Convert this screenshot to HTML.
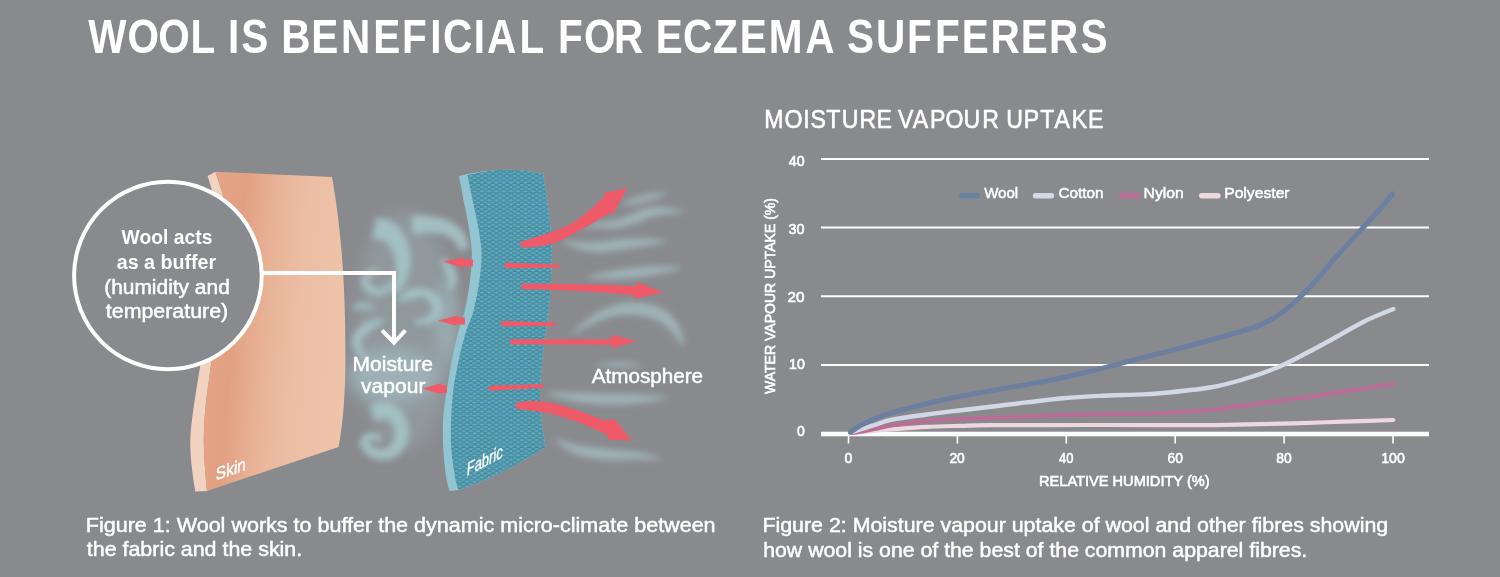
<!DOCTYPE html>
<html><head><meta charset="utf-8">
<style>
html,body{margin:0;padding:0;background:#898a8e;width:1500px;height:577px;overflow:hidden}
svg{display:block}
text{font-family:"Liberation Sans",sans-serif;fill:#fff}
</style></head>
<body>
<svg width="1500" height="577" viewBox="0 0 1500 577">
<rect id="bg" width="1500" height="577" fill="#898a8e"/>
<g class="nt">
<g id="fig1">
<defs>
<filter id="bl3" x="-30%" y="-30%" width="160%" height="160%"><feGaussianBlur stdDeviation="3"/></filter>
<filter id="bl4" x="-30%" y="-30%" width="160%" height="160%"><feGaussianBlur stdDeviation="4"/></filter>
<filter id="bl8" x="-50%" y="-50%" width="200%" height="200%"><feGaussianBlur stdDeviation="8"/></filter>
<pattern id="hatch" width="7.3" height="4.4" patternUnits="userSpaceOnUse" x="0" y="0">
<rect width="7.3" height="4.4" fill="#60aabe"/>
<path d="M0,0 L7.3,4.4 M7.3,0 L0,4.4 M-7.3,0 L7.3,8.8 M14.6,0 L0,8.8 M0,-4.4 L7.3,0 M7.3,-4.4 L0,0 M0,4.4 L7.3,8.8 M7.3,4.4 L0,8.8" stroke="#44889d" stroke-width="1.1" fill="none"/>
</pattern>
<linearGradient id="skinG" x1="230" y1="0" x2="390" y2="0" gradientUnits="userSpaceOnUse" gradientTransform="skewX(-5)">
<stop offset="0" stop-color="#e5a587"/>
<stop offset="0.2" stop-color="#e2a082"/>
<stop offset="0.4" stop-color="#e8b397"/>
<stop offset="0.6" stop-color="#ecbea4"/>
<stop offset="1" stop-color="#efc5ac"/>
</linearGradient>
</defs>

<!-- left swirls -->
<ellipse cx="405" cy="330" rx="50" ry="120" fill="#a6c3c7" opacity="0.25" filter="url(#bl8)"/>
<ellipse cx="447" cy="322" rx="11" ry="45" fill="#a6c3c7" opacity="0.5" filter="url(#bl8)"/>
<ellipse cx="393" cy="376" rx="46" ry="27" fill="#a6c3c7" opacity="0.6" filter="url(#bl8)"/>
<g fill="#a5c4c8" filter="url(#bl3)" opacity="0.9">
<path d="M372.0,238.8 L373.6,239.0 L375.4,239.2 L377.0,239.3 L378.5,239.4 L379.8,239.5 L380.9,239.6 L381.8,239.7 L382.4,239.8 L382.8,239.8 L383.1,239.9 L383.4,240.0 L383.9,240.2 L384.4,240.6 L385.0,241.1 L385.7,241.6 L386.3,242.3 L387.0,243.1 L387.7,243.9 L388.4,244.8 L389.1,245.7 L389.7,246.6 L390.2,247.4 L390.8,248.4 L391.3,249.3 L391.8,250.3 L392.3,251.4 L392.8,252.5 L393.2,253.6 L393.6,254.7 L394.0,255.8 L394.3,256.9 L394.7,258.1 L395.0,259.2 L395.2,260.3 L395.4,261.4 L395.6,262.6 L395.8,263.7 L395.9,264.9 L396.0,266.1 L396.0,267.3 L396.0,268.6 L395.9,270.0 L395.8,271.6 L395.6,273.2 L395.4,274.8 L395.2,276.5 L394.9,278.1 L394.6,279.6 L394.4,281.0 L394.2,282.1 L394.0,283.1 L393.8,283.9 L393.5,284.6 L393.3,285.3 L393.0,285.9 L392.7,286.6 L392.3,287.4 L392.0,288.3 L391.6,289.2 L391.5,290.3 L396.5,293.7 L397.4,293.2 L398.1,292.8 L398.7,292.3 L399.4,291.7 L400.1,291.1 L400.8,290.3 L401.6,289.4 L402.4,288.3 L403.1,287.2 L403.8,285.9 L404.5,284.5 L405.2,283.0 L406.0,281.4 L406.7,279.7 L407.3,277.9 L408.0,276.1 L408.6,274.3 L409.1,272.4 L409.6,270.5 L410.0,268.7 L410.3,267.0 L410.5,265.2 L410.6,263.5 L410.7,261.9 L410.7,260.2 L410.6,258.6 L410.5,256.9 L410.4,255.3 L410.2,253.8 L410.0,252.2 L409.7,250.6 L409.4,249.0 L409.1,247.4 L408.6,245.8 L408.2,244.2 L407.6,242.5 L407.1,240.9 L406.4,239.3 L405.7,237.8 L404.9,236.3 L404.2,234.8 L403.4,233.5 L402.5,232.0 L401.5,230.6 L400.5,229.1 L399.3,227.6 L398.0,226.2 L396.5,224.8 L394.8,223.4 L392.9,222.1 L390.8,221.0 L388.6,220.1 L386.6,219.5 L384.6,219.0 L382.9,218.6 L381.2,218.3 L379.7,218.0 L378.4,217.8 L377.2,217.5 L376.0,217.2 Z"/>
<path d="M412.4,234.5 L414.0,234.3 L415.7,234.2 L417.4,234.0 L419.0,233.8 L420.5,233.6 L422.0,233.5 L423.4,233.3 L424.8,233.2 L426.1,233.1 L427.5,233.1 L429.0,233.1 L430.6,233.1 L432.1,233.2 L433.6,233.2 L435.1,233.3 L436.6,233.5 L437.9,233.6 L439.2,233.8 L440.5,234.0 L441.6,234.2 L442.6,234.5 L443.7,234.9 L444.8,235.3 L445.9,235.7 L447.0,236.2 L448.0,236.7 L449.0,237.2 L450.0,237.8 L450.8,238.4 L451.6,238.9 L452.2,239.3 L452.8,239.8 L453.4,240.4 L454.0,241.0 L454.6,241.7 L455.1,242.4 L455.6,243.1 L456.1,243.8 L456.6,244.5 L457.0,245.1 L457.2,245.5 L457.4,245.8 L457.6,246.1 L457.7,246.5 L457.9,246.9 L458.0,247.5 L458.2,248.1 L458.3,248.9 L458.6,249.7 L459.0,250.4 L467.0,249.6 L467.3,248.9 L467.4,248.4 L467.6,247.8 L467.7,247.1 L467.7,246.3 L467.8,245.4 L467.8,244.4 L467.6,243.3 L467.4,242.1 L467.0,240.9 L466.7,239.8 L466.3,238.8 L465.9,237.7 L465.4,236.5 L464.8,235.3 L464.1,234.1 L463.4,232.8 L462.5,231.6 L461.5,230.3 L460.4,229.1 L459.3,228.0 L458.1,227.0 L456.9,226.0 L455.6,225.0 L454.3,224.0 L452.8,223.1 L451.3,222.2 L449.8,221.3 L448.1,220.5 L446.4,219.8 L444.7,219.1 L442.9,218.6 L441.0,218.1 L439.2,217.6 L437.4,217.2 L435.6,216.9 L433.8,216.6 L432.0,216.3 L430.2,216.1 L428.5,215.9 L426.7,215.7 L424.8,215.6 L423.0,215.5 L421.2,215.5 L419.5,215.5 L417.8,215.5 L416.2,215.5 L414.7,215.5 L413.2,215.5 L411.6,215.5 Z"/>
<path d="M379.8,270.0 L378.8,269.8 L377.8,269.6 L376.7,269.5 L375.6,269.4 L374.4,269.3 L373.3,269.3 L372.1,269.4 L370.8,269.6 L369.5,270.0 L368.3,270.6 L367.2,271.4 L366.2,272.3 L365.2,273.3 L364.3,274.4 L363.5,275.5 L362.8,276.7 L362.2,277.9 L361.7,279.2 L361.4,280.6 L361.2,282.0 L361.3,283.5 L361.6,284.8 L362.1,286.1 L362.7,287.2 L363.4,288.3 L364.2,289.3 L365.1,290.1 L365.9,290.9 L366.8,291.7 L367.8,292.3 L368.8,293.0 L369.9,293.5 L371.1,294.1 L372.3,294.5 L373.5,295.0 L374.9,295.3 L376.2,295.5 L377.6,295.7 L379.0,295.7 L380.4,295.6 L381.8,295.3 L383.1,294.8 L384.3,294.2 L385.5,293.6 L386.6,292.8 L387.6,292.1 L388.6,291.2 L389.4,290.4 L390.2,289.6 L390.9,288.7 L391.5,287.7 L391.9,286.7 L392.2,285.7 L392.3,284.8 L392.4,283.9 L392.3,283.1 L392.3,282.4 L392.2,281.6 L392.1,281.0 L392.0,280.2 L390.0,279.8 L389.5,280.5 L389.2,281.2 L389.0,282.0 L388.7,282.7 L388.5,283.3 L388.3,283.9 L388.0,284.4 L387.7,284.7 L387.5,285.0 L387.1,285.3 L386.6,285.7 L385.9,286.1 L385.1,286.6 L384.3,287.0 L383.4,287.4 L382.5,287.8 L381.7,288.1 L380.9,288.3 L380.2,288.4 L379.6,288.4 L379.1,288.4 L378.4,288.3 L377.6,288.1 L376.8,287.8 L376.0,287.5 L375.1,287.2 L374.3,286.8 L373.5,286.4 L372.8,286.0 L372.2,285.7 L371.7,285.3 L371.1,284.8 L370.6,284.4 L370.1,283.9 L369.7,283.5 L369.4,283.0 L369.1,282.7 L368.9,282.3 L368.8,282.1 L368.8,282.0 L368.8,281.7 L368.8,281.2 L369.0,280.5 L369.3,279.7 L369.6,278.9 L370.0,278.0 L370.4,277.2 L370.9,276.5 L371.3,275.8 L371.7,275.4 L372.1,275.0 L372.6,274.7 L373.2,274.4 L374.0,274.1 L374.9,273.8 L375.9,273.5 L377.0,273.2 L378.1,272.9 L379.2,272.6 L380.2,272.0 Z"/>
<path d="M405.0,293.5 L406.8,294.0 L408.6,294.3 L410.4,294.5 L412.2,294.6 L413.9,294.8 L415.6,294.9 L417.1,295.1 L418.5,295.3 L419.8,295.6 L421.0,296.0 L422.1,296.5 L423.4,297.1 L424.6,297.8 L425.8,298.5 L427.0,299.3 L428.0,300.1 L429.0,300.9 L429.9,301.6 L430.5,302.4 L431.0,303.0 L431.4,303.5 L431.7,304.2 L432.0,305.0 L432.2,305.8 L432.4,306.7 L432.5,307.6 L432.6,308.5 L432.5,309.3 L432.5,310.0 L432.4,310.6 L432.3,311.1 L432.1,311.6 L431.8,312.2 L431.4,312.8 L430.9,313.4 L430.3,314.0 L429.7,314.7 L429.0,315.3 L428.2,315.8 L427.5,316.3 L426.6,316.8 L425.7,317.2 L424.5,317.5 L423.1,317.9 L421.7,318.2 L420.1,318.6 L418.5,318.9 L416.9,319.3 L415.3,319.8 L413.8,320.5 L414.2,323.5 L415.7,323.8 L417.3,324.1 L418.9,324.2 L420.5,324.4 L422.2,324.5 L423.9,324.6 L425.5,324.5 L427.2,324.4 L428.9,324.1 L430.5,323.7 L432.0,323.1 L433.4,322.4 L434.8,321.7 L436.0,320.8 L437.2,319.8 L438.3,318.8 L439.3,317.6 L440.2,316.3 L441.0,314.9 L441.6,313.4 L442.0,311.8 L442.3,310.3 L442.4,308.6 L442.4,307.0 L442.2,305.3 L441.9,303.6 L441.5,301.9 L440.8,300.2 L440.0,298.6 L439.0,297.0 L437.8,295.6 L436.5,294.4 L435.1,293.2 L433.5,292.2 L431.9,291.2 L430.2,290.3 L428.5,289.6 L426.7,288.9 L424.9,288.4 L423.0,288.0 L421.1,287.7 L419.2,287.6 L417.3,287.7 L415.4,287.9 L413.6,288.2 L411.8,288.6 L410.0,289.0 L408.3,289.4 L406.6,289.9 L405.0,290.5 Z"/>
<path d="M383.6,319.1 L381.7,319.0 L379.9,319.1 L378.1,319.3 L376.3,319.6 L374.4,319.9 L372.6,320.3 L370.7,320.8 L368.9,321.5 L367.1,322.2 L365.4,323.2 L363.7,324.2 L362.2,325.3 L360.6,326.5 L359.2,327.8 L357.7,329.2 L356.4,330.7 L355.2,332.3 L354.2,333.9 L353.3,335.5 L352.5,337.3 L352.1,339.2 L351.9,341.1 L352.0,342.9 L352.2,344.6 L352.7,346.2 L353.2,347.7 L353.8,349.1 L354.5,350.4 L355.2,351.6 L355.9,352.7 L356.8,353.8 L357.9,354.8 L358.9,355.7 L360.0,356.3 L361.1,356.9 L362.2,357.4 L363.2,357.8 L364.2,358.2 L365.2,358.5 L366.4,358.8 L367.6,357.2 L367.1,356.1 L366.4,355.2 L365.6,354.3 L364.9,353.5 L364.2,352.7 L363.5,352.0 L363.0,351.3 L362.6,350.6 L362.3,350.0 L362.1,349.3 L361.8,348.4 L361.5,347.4 L361.3,346.4 L361.1,345.4 L361.0,344.4 L360.9,343.4 L360.9,342.6 L361.1,341.8 L361.2,341.2 L361.5,340.7 L361.8,340.0 L362.4,339.2 L363.1,338.2 L364.0,337.2 L365.0,336.1 L366.1,335.0 L367.2,333.9 L368.4,332.8 L369.5,331.8 L370.6,330.8 L371.7,330.0 L372.9,329.1 L374.1,328.2 L375.5,327.4 L377.0,326.5 L378.5,325.5 L380.0,324.6 L381.6,323.5 L383.1,322.4 L384.4,320.9 Z"/>
<path d="M440.3,259.7 L440.4,261.0 L440.8,262.1 L441.3,263.2 L441.8,264.2 L442.3,265.1 L442.7,266.0 L443.2,266.9 L443.5,267.7 L443.8,268.5 L444.1,269.3 L444.5,270.2 L444.8,271.2 L445.2,272.1 L445.6,273.1 L445.9,274.1 L446.2,275.0 L446.6,275.9 L446.8,276.8 L447.1,277.6 L447.3,278.4 L447.5,279.1 L447.6,280.0 L447.7,280.9 L447.8,282.0 L447.9,283.2 L447.9,284.4 L448.0,285.7 L448.2,287.0 L448.4,288.4 L449.0,289.8 L451.0,290.2 L452.0,289.2 L452.8,288.1 L453.6,287.0 L454.2,285.9 L454.9,284.7 L455.4,283.5 L455.9,282.1 L456.3,280.7 L456.6,279.2 L456.7,277.6 L456.6,276.1 L456.4,274.6 L456.1,273.2 L455.7,271.8 L455.2,270.4 L454.6,269.2 L454.0,268.0 L453.3,266.8 L452.6,265.7 L451.9,264.7 L451.0,263.7 L450.1,262.7 L449.1,261.9 L448.1,261.1 L447.1,260.5 L446.1,259.9 L445.1,259.4 L444.1,259.0 L443.0,258.6 L441.7,258.3 Z"/>
<path d="M352.1,308.5 L353.2,308.9 L354.3,309.0 L355.4,309.0 L356.4,309.0 L357.4,309.0 L358.3,308.9 L359.3,308.9 L360.2,308.9 L361.1,308.9 L362.0,309.0 L363.0,309.0 L364.1,309.1 L365.3,309.2 L366.5,309.3 L367.8,309.3 L369.2,309.3 L370.6,309.3 L372.0,309.2 L373.5,309.0 L374.9,308.5 L375.1,307.5 L373.9,306.6 L372.7,305.9 L371.4,305.2 L370.1,304.7 L368.8,304.2 L367.4,303.7 L366.1,303.4 L364.7,303.2 L363.4,303.0 L362.0,303.0 L360.7,303.2 L359.5,303.4 L358.3,303.7 L357.2,304.1 L356.2,304.5 L355.3,305.0 L354.4,305.5 L353.6,306.1 L352.7,306.7 L351.9,307.5 Z"/>
<path d="M396.2,301.5 L397.9,301.7 L399.5,301.7 L401.0,301.5 L402.6,301.3 L404.1,301.1 L405.6,300.8 L407.1,300.5 L408.5,300.3 L409.8,300.0 L411.2,299.7 L412.5,299.3 L413.8,298.9 L415.0,298.6 L416.2,298.2 L417.3,297.8 L418.3,297.5 L419.3,297.2 L420.3,296.9 L421.1,296.7 L422.0,296.5 L422.8,296.4 L423.7,296.3 L424.7,296.3 L425.7,296.4 L426.8,296.5 L427.9,296.6 L429.1,296.7 L430.3,296.8 L431.6,296.8 L432.9,296.5 L433.1,295.5 L432.3,294.6 L431.3,293.8 L430.4,293.1 L429.4,292.4 L428.4,291.8 L427.3,291.1 L426.1,290.6 L424.8,290.1 L423.5,289.7 L422.0,289.5 L420.6,289.4 L419.1,289.5 L417.7,289.6 L416.4,289.9 L415.1,290.2 L413.8,290.6 L412.5,291.0 L411.3,291.4 L410.1,291.9 L408.8,292.3 L407.5,292.9 L406.2,293.5 L404.8,294.2 L403.5,294.9 L402.1,295.7 L400.8,296.5 L399.5,297.4 L398.2,298.3 L397.0,299.3 L395.8,300.5 Z"/>
<path d="M374.5,421.1 L375.9,420.8 L377.4,420.3 L378.8,419.8 L380.0,419.3 L381.1,418.9 L382.0,418.6 L382.7,418.4 L383.2,418.3 L383.5,418.3 L383.7,418.2 L384.2,418.3 L384.8,418.4 L385.6,418.7 L386.4,418.9 L387.2,419.3 L388.0,419.7 L388.7,420.2 L389.4,420.6 L390.0,421.1 L390.5,421.6 L390.9,422.0 L391.4,422.6 L391.9,423.3 L392.4,424.1 L392.8,425.0 L393.2,425.9 L393.6,426.8 L393.9,427.8 L394.1,428.7 L394.3,429.6 L394.5,430.6 L394.6,431.6 L394.6,432.7 L394.6,433.9 L394.6,435.1 L394.4,436.2 L394.3,437.3 L394.1,438.4 L393.8,439.3 L393.6,440.1 L393.2,440.8 L392.8,441.7 L392.3,442.5 L391.8,443.3 L391.2,444.1 L390.5,444.8 L389.9,445.5 L389.2,446.1 L388.6,446.6 L388.0,447.0 L387.4,447.4 L386.7,447.7 L385.9,448.0 L385.1,448.2 L384.1,448.4 L383.2,448.5 L382.2,448.6 L381.2,448.7 L380.3,448.7 L379.5,448.6 L378.8,448.5 L378.0,448.4 L377.1,448.1 L376.1,447.8 L375.2,447.4 L374.3,447.0 L373.4,446.5 L372.6,446.0 L371.9,445.6 L371.3,445.2 L370.9,444.9 L370.5,444.5 L370.2,444.1 L369.8,443.7 L369.6,443.3 L369.4,443.0 L369.2,442.7 L369.2,442.5 L369.1,442.5 L369.1,442.6 L369.0,442.8 L368.9,442.8 L369.0,442.6 L369.2,442.3 L369.5,441.9 L369.8,441.5 L370.2,441.2 L370.6,440.9 L370.9,440.6 L371.1,440.5 L371.2,440.4 L371.6,440.3 L372.1,440.2 L372.7,440.2 L373.4,440.2 L374.1,440.2 L374.7,440.3 L375.3,440.4 L375.8,440.5 L376.1,440.5 L376.2,440.5 L376.2,440.4 L376.2,440.4 L376.3,440.5 L376.5,440.7 L376.7,441.1 L377.0,441.5 L377.3,442.0 L377.7,442.6 L378.2,443.1 L382.6,440.7 L382.6,440.2 L382.6,439.9 L382.5,439.4 L382.4,438.9 L382.2,438.3 L382.0,437.5 L381.6,436.7 L381.0,435.9 L380.2,435.1 L379.3,434.5 L378.4,434.0 L377.5,433.6 L376.5,433.3 L375.5,433.0 L374.4,432.7 L373.3,432.5 L372.2,432.4 L371.0,432.4 L369.8,432.4 L368.5,432.7 L367.4,433.1 L366.3,433.6 L365.3,434.2 L364.3,434.9 L363.4,435.6 L362.5,436.4 L361.7,437.4 L361.0,438.5 L360.4,439.7 L359.9,441.2 L359.8,442.6 L359.9,443.9 L360.1,445.2 L360.5,446.4 L360.9,447.6 L361.5,448.7 L362.1,449.8 L362.9,450.9 L363.7,451.9 L364.7,452.8 L365.6,453.7 L366.7,454.5 L367.8,455.3 L369.0,456.1 L370.3,456.9 L371.7,457.6 L373.1,458.3 L374.6,458.9 L376.1,459.4 L377.7,459.8 L379.2,460.0 L380.8,460.2 L382.3,460.3 L383.9,460.3 L385.6,460.2 L387.2,460.0 L388.9,459.7 L390.5,459.2 L392.2,458.7 L393.8,458.0 L395.3,457.1 L396.8,456.2 L398.2,455.1 L399.5,454.0 L400.7,452.8 L401.9,451.5 L403.0,450.1 L404.1,448.6 L405.0,447.1 L405.8,445.5 L406.6,443.8 L407.2,442.1 L407.7,440.4 L408.1,438.6 L408.4,436.8 L408.6,434.9 L408.8,433.1 L408.8,431.3 L408.8,429.5 L408.7,427.8 L408.4,426.0 L408.1,424.3 L407.7,422.5 L407.2,420.8 L406.6,419.1 L405.8,417.5 L405.0,415.9 L404.1,414.3 L403.1,412.7 L401.9,411.2 L400.6,409.9 L399.3,408.6 L397.8,407.5 L396.3,406.4 L394.7,405.4 L393.1,404.5 L391.4,403.8 L389.7,403.1 L387.9,402.6 L385.9,402.2 L383.7,402.0 L381.6,402.0 L379.6,402.3 L377.9,402.6 L376.3,403.0 L374.8,403.5 L373.5,403.8 L372.4,404.2 L371.4,404.4 L370.3,404.7 Z"/>
</g>
<!-- right swirls -->
<g fill="#a0b5b8" filter="url(#bl3)" opacity="0.95">
<path d="M621.0,205.0 L622.6,205.3 L624.1,205.3 L625.6,205.2 L627.0,205.1 L628.5,205.0 L630.0,204.8 L631.4,204.6 L632.9,204.4 L634.3,204.2 L635.8,203.9 L637.3,203.7 L638.8,203.4 L640.3,203.1 L641.7,202.7 L643.2,202.4 L644.7,202.0 L646.2,201.6 L647.7,201.1 L649.2,200.7 L650.8,200.2 L652.4,199.7 L654.0,199.1 L655.6,198.5 L657.2,197.9 L658.9,197.2 L660.6,196.6 L662.2,195.8 L663.9,195.0 L665.5,194.2 L667.0,193.0 L667.0,193.0 L665.1,192.6 L663.3,192.6 L661.5,192.6 L659.7,192.6 L657.9,192.8 L656.1,192.9 L654.3,193.1 L652.6,193.3 L650.9,193.5 L649.2,193.8 L647.6,194.1 L646.0,194.5 L644.4,194.8 L642.9,195.2 L641.4,195.6 L639.9,196.1 L638.5,196.5 L637.0,197.0 L635.6,197.5 L634.2,198.1 L632.8,198.6 L631.4,199.2 L630.0,199.8 L628.7,200.4 L627.4,201.0 L626.1,201.7 L624.8,202.4 L623.5,203.1 L622.2,203.9 L621.0,205.0 Z"/>
<path d="M582.0,227.0 L583.9,227.4 L585.7,227.6 L587.6,227.7 L589.4,227.7 L591.3,227.8 L593.1,227.8 L594.9,227.9 L596.7,227.9 L598.5,227.9 L600.2,227.9 L601.9,228.0 L603.6,228.1 L605.3,228.2 L607.0,228.3 L608.7,228.4 L610.5,228.5 L612.2,228.6 L614.1,228.5 L615.9,228.5 L617.8,228.3 L619.6,228.0 L621.4,227.7 L623.1,227.3 L624.8,226.8 L626.5,226.3 L628.2,225.8 L629.8,225.3 L631.4,224.8 L633.0,224.2 L634.7,223.7 L636.5,223.0 L638.3,222.3 L640.0,221.6 L641.7,220.8 L643.4,220.0 L645.1,219.3 L646.6,218.6 L648.2,218.0 L649.7,217.4 L651.1,217.0 L652.6,216.6 L654.1,216.2 L655.6,215.9 L657.1,215.7 L658.7,215.4 L660.3,215.2 L661.9,215.0 L663.6,214.8 L665.3,214.6 L667.1,214.3 L668.8,214.1 L670.5,213.9 L672.3,213.7 L674.0,213.5 L675.9,213.3 L677.7,213.0 L679.5,212.8 L681.3,212.5 L683.2,212.1 L685.0,211.5 L685.0,211.5 L683.2,210.7 L681.4,210.2 L679.6,209.8 L677.8,209.4 L676.0,209.0 L674.2,208.7 L672.4,208.3 L670.6,208.1 L668.7,207.8 L666.9,207.7 L665.2,207.5 L663.5,207.4 L661.7,207.2 L660.0,207.1 L658.2,207.1 L656.4,207.1 L654.6,207.1 L652.7,207.3 L650.8,207.5 L648.9,207.8 L646.9,208.3 L645.0,208.8 L643.1,209.5 L641.3,210.2 L639.5,210.9 L637.7,211.7 L636.0,212.4 L634.4,213.1 L632.9,213.7 L631.3,214.3 L629.7,214.9 L628.1,215.6 L626.5,216.2 L625.0,216.8 L623.5,217.4 L622.0,217.9 L620.6,218.4 L619.1,218.9 L617.7,219.3 L616.2,219.7 L614.8,220.1 L613.3,220.3 L611.8,220.6 L610.2,220.8 L608.5,220.9 L606.9,221.1 L605.1,221.3 L603.4,221.5 L601.6,221.7 L599.8,222.1 L598.0,222.4 L596.2,222.8 L594.4,223.2 L592.6,223.6 L590.8,224.1 L589.1,224.6 L587.3,225.1 L585.5,225.6 L583.7,226.2 L582.0,227.0 Z"/>
<path d="M562.0,241.0 L563.6,242.2 L565.3,243.2 L567.0,244.0 L568.7,244.9 L570.4,245.7 L572.1,246.5 L573.9,247.2 L575.7,247.9 L577.5,248.6 L579.4,249.2 L581.2,249.7 L583.0,250.1 L584.8,250.6 L586.7,250.9 L588.5,251.3 L590.4,251.6 L592.3,251.8 L594.2,252.0 L596.1,252.1 L598.1,252.2 L600.1,252.2 L602.1,252.2 L604.2,252.1 L606.2,251.9 L608.1,251.7 L610.1,251.4 L612.0,251.2 L613.9,250.9 L615.7,250.6 L617.6,250.4 L619.5,250.1 L621.4,249.9 L623.4,249.6 L625.3,249.3 L627.2,249.0 L629.1,248.7 L631.0,248.4 L632.9,248.1 L634.7,247.8 L636.4,247.5 L638.1,247.2 L639.7,247.0 L641.3,246.7 L642.9,246.5 L644.4,246.3 L645.9,246.0 L647.5,245.8 L649.0,245.5 L650.6,245.3 L652.2,245.0 L653.8,244.7 L655.4,244.4 L656.9,244.0 L658.5,243.7 L660.1,243.4 L661.7,243.0 L663.3,242.6 L664.9,242.2 L666.4,241.7 L668.0,241.0 L668.0,241.0 L666.4,240.5 L664.7,240.2 L663.1,240.0 L661.5,239.8 L659.9,239.6 L658.3,239.5 L656.7,239.4 L655.0,239.2 L653.4,239.1 L651.8,239.0 L650.2,238.9 L648.7,238.8 L647.1,238.8 L645.5,238.7 L644.0,238.6 L642.4,238.6 L640.8,238.5 L639.1,238.5 L637.4,238.5 L635.6,238.5 L633.8,238.5 L631.9,238.6 L630.0,238.7 L628.1,238.8 L626.1,238.9 L624.2,239.0 L622.2,239.1 L620.3,239.3 L618.3,239.5 L616.4,239.6 L614.4,239.8 L612.5,240.0 L610.5,240.3 L608.6,240.5 L606.7,240.8 L604.9,241.0 L603.1,241.3 L601.3,241.5 L599.6,241.6 L597.9,241.8 L596.2,241.9 L594.5,241.9 L592.8,242.0 L591.1,242.0 L589.3,242.0 L587.6,242.0 L585.9,242.0 L584.1,242.0 L582.4,241.9 L580.6,241.8 L578.9,241.8 L577.1,241.6 L575.3,241.5 L573.5,241.3 L571.6,241.2 L569.7,241.0 L567.8,240.8 L565.9,240.7 L564.0,240.7 L562.0,241.0 Z"/>
<path d="M586.0,277.5 L588.1,278.0 L590.1,278.3 L592.1,278.5 L594.1,278.6 L596.2,278.7 L598.2,278.8 L600.2,278.9 L602.2,278.9 L604.3,279.0 L606.3,279.0 L608.4,279.0 L610.4,279.0 L612.4,279.0 L614.4,279.0 L616.4,278.9 L618.5,278.9 L620.6,278.8 L622.8,278.7 L625.1,278.5 L627.5,278.4 L630.0,278.2 L632.7,277.9 L635.4,277.6 L638.2,277.3 L641.1,277.0 L644.0,276.6 L646.9,276.1 L649.8,275.7 L652.6,275.2 L655.5,274.7 L658.2,274.2 L661.0,273.6 L663.8,273.0 L666.5,272.4 L669.3,271.8 L672.1,271.1 L674.8,270.4 L677.6,269.6 L680.3,268.7 L683.0,267.5 L683.0,267.5 L680.1,266.9 L677.2,266.6 L674.4,266.4 L671.5,266.3 L668.7,266.2 L665.9,266.2 L663.0,266.2 L660.2,266.2 L657.4,266.2 L654.5,266.3 L651.7,266.4 L648.8,266.5 L645.9,266.7 L642.9,266.9 L640.0,267.2 L637.2,267.4 L634.4,267.7 L631.6,268.0 L629.0,268.3 L626.5,268.6 L624.1,268.9 L621.9,269.3 L619.7,269.6 L617.6,269.9 L615.6,270.2 L613.6,270.5 L611.6,270.9 L609.7,271.2 L607.7,271.6 L605.7,272.0 L603.6,272.4 L601.6,272.9 L599.6,273.3 L597.7,273.8 L595.7,274.3 L593.8,274.8 L591.8,275.3 L589.9,275.9 L587.9,276.6 L586.0,277.5 Z"/>
<path d="M572.0,335.0 L573.8,334.3 L575.4,333.5 L576.9,332.6 L578.5,331.7 L580.0,330.7 L581.5,329.8 L583.0,328.9 L584.5,328.0 L586.1,327.2 L587.6,326.4 L589.2,325.6 L590.8,324.7 L592.4,323.9 L594.1,323.2 L595.7,322.4 L597.4,321.7 L599.0,321.0 L600.7,320.3 L602.2,319.7 L603.8,319.1 L605.4,318.6 L606.9,318.1 L608.5,317.7 L610.0,317.3 L611.5,316.9 L613.0,316.6 L614.6,316.2 L616.1,316.0 L617.6,315.7 L619.1,315.5 L620.6,315.3 L622.0,315.1 L623.5,315.0 L625.0,314.9 L626.5,314.8 L627.9,314.8 L629.4,314.8 L630.9,314.8 L632.3,314.8 L633.8,314.9 L635.3,315.0 L636.8,315.1 L638.3,315.3 L639.8,315.5 L641.2,315.7 L642.6,315.9 L644.1,316.2 L645.4,316.5 L646.8,316.8 L648.2,317.2 L649.5,317.7 L651.0,318.1 L652.4,318.7 L653.8,319.2 L655.1,319.8 L656.5,320.4 L657.8,321.0 L659.1,321.6 L660.3,322.3 L661.4,322.9 L662.5,323.7 L663.6,324.4 L664.7,325.3 L665.8,326.1 L666.9,327.0 L668.0,328.0 L669.1,329.0 L670.1,330.1 L671.2,331.2 L672.3,332.4 L673.3,333.6 L674.4,334.9 L675.4,336.3 L676.5,337.8 L677.6,339.3 L678.7,340.9 L679.8,342.5 L681.1,344.1 L682.4,345.7 L684.0,347.0 L684.0,347.0 L684.1,344.9 L683.8,342.9 L683.5,341.0 L683.2,339.0 L682.8,337.0 L682.4,335.1 L681.8,333.2 L681.2,331.3 L680.5,329.4 L679.7,327.6 L678.9,325.9 L678.0,324.3 L677.0,322.7 L676.0,321.2 L675.0,319.7 L673.8,318.3 L672.6,316.9 L671.4,315.6 L670.0,314.3 L668.6,313.1 L667.1,311.9 L665.5,310.8 L663.8,309.8 L662.2,308.9 L660.5,308.0 L658.8,307.2 L657.0,306.5 L655.3,305.9 L653.6,305.3 L651.8,304.8 L650.1,304.3 L648.3,303.9 L646.5,303.5 L644.7,303.2 L642.9,303.0 L641.1,302.8 L639.4,302.7 L637.6,302.6 L635.9,302.5 L634.2,302.5 L632.5,302.5 L630.7,302.6 L629.0,302.6 L627.3,302.8 L625.5,303.0 L623.8,303.2 L622.1,303.5 L620.4,303.8 L618.6,304.1 L616.9,304.5 L615.2,305.0 L613.5,305.4 L611.8,306.0 L610.2,306.5 L608.5,307.1 L606.8,307.8 L605.1,308.5 L603.5,309.2 L601.8,310.0 L600.2,310.9 L598.5,311.8 L596.9,312.7 L595.2,313.7 L593.6,314.8 L592.0,315.8 L590.4,317.0 L588.9,318.1 L587.3,319.3 L585.9,320.4 L584.4,321.6 L583.0,322.9 L581.6,324.1 L580.3,325.4 L579.0,326.7 L577.8,328.0 L576.5,329.3 L575.3,330.7 L574.2,332.0 L573.0,333.4 L572.0,335.0 Z"/>
<path d="M595.0,365.0 L597.4,365.6 L599.8,366.0 L602.2,366.2 L604.6,366.4 L607.0,366.6 L609.4,366.8 L611.8,366.9 L614.2,366.9 L616.6,367.0 L619.0,367.0 L621.4,367.0 L623.9,367.0 L626.4,366.9 L628.9,366.8 L631.4,366.7 L633.9,366.5 L636.4,366.3 L639.0,366.0 L641.5,365.6 L644.0,365.0 L644.0,365.0 L641.5,364.3 L639.0,363.8 L636.5,363.4 L634.0,363.0 L631.5,362.7 L629.0,362.4 L626.5,362.2 L624.0,362.1 L621.5,362.0 L619.0,362.0 L616.5,362.0 L614.1,362.1 L611.7,362.3 L609.3,362.5 L606.9,362.8 L604.5,363.1 L602.1,363.4 L599.8,363.8 L597.4,364.3 L595.0,365.0 Z"/>
<path d="M545.0,393.0 L547.4,394.1 L549.7,395.0 L552.0,395.7 L554.4,396.5 L556.7,397.2 L559.1,397.8 L561.6,398.5 L564.1,399.1 L566.8,399.7 L569.6,400.3 L572.5,400.9 L575.5,401.4 L578.6,401.9 L581.8,402.4 L585.1,402.9 L588.4,403.3 L591.8,403.7 L595.1,404.0 L598.5,404.3 L601.8,404.5 L605.1,404.6 L608.4,404.7 L611.7,404.7 L615.1,404.7 L618.4,404.6 L621.7,404.5 L625.1,404.3 L628.4,404.1 L631.8,403.8 L635.1,403.5 L638.5,403.2 L641.9,402.8 L645.3,402.4 L648.7,401.9 L652.1,401.3 L655.5,400.7 L658.9,400.1 L662.3,399.4 L665.6,398.6 L669.0,397.5 L669.0,397.5 L665.5,396.7 L662.1,396.2 L658.7,395.9 L655.2,395.6 L651.8,395.4 L648.4,395.2 L645.0,395.0 L641.6,394.8 L638.2,394.6 L634.9,394.5 L631.6,394.3 L628.2,394.2 L624.9,394.1 L621.6,394.0 L618.4,393.9 L615.1,393.8 L611.9,393.8 L608.6,393.7 L605.4,393.6 L602.2,393.5 L599.0,393.4 L595.7,393.3 L592.5,393.2 L589.2,393.1 L585.9,393.0 L582.7,393.0 L579.5,392.9 L576.4,392.8 L573.3,392.7 L570.4,392.7 L567.6,392.7 L565.0,392.6 L562.4,392.6 L559.9,392.5 L557.4,392.5 L555.0,392.4 L552.5,392.4 L550.1,392.5 L547.6,392.6 L545.0,393.0 Z"/>
<path d="M554.0,439.0 L555.2,440.5 L556.6,441.8 L558.0,443.0 L559.4,444.2 L560.8,445.3 L562.3,446.5 L563.8,447.6 L565.3,448.6 L566.9,449.6 L568.6,450.5 L570.2,451.4 L571.8,452.2 L573.4,453.0 L575.0,453.7 L576.7,454.4 L578.4,455.0 L580.2,455.6 L582.0,456.2 L584.0,456.7 L586.0,457.2 L588.2,457.7 L590.4,458.1 L592.7,458.4 L595.1,458.7 L597.5,459.0 L599.9,459.2 L602.4,459.4 L604.8,459.5 L607.2,459.7 L609.6,459.8 L612.0,459.8 L614.5,459.9 L616.8,459.9 L619.2,459.8 L621.6,459.7 L623.9,459.7 L626.3,459.6 L628.7,459.5 L631.2,459.4 L633.7,459.4 L636.3,459.4 L639.0,459.4 L641.8,459.4 L644.6,459.4 L647.5,459.4 L650.4,459.4 L653.3,459.3 L656.2,459.2 L659.1,459.0 L662.0,458.5 L662.0,458.5 L659.3,457.4 L656.5,456.5 L653.7,455.8 L650.9,455.0 L648.0,454.3 L645.2,453.7 L642.4,453.1 L639.7,452.5 L637.0,452.0 L634.3,451.6 L631.7,451.2 L629.1,450.9 L626.6,450.6 L624.2,450.4 L621.8,450.2 L619.5,450.0 L617.2,449.8 L614.9,449.7 L612.6,449.5 L610.4,449.2 L608.0,449.0 L605.7,448.8 L603.3,448.5 L600.9,448.3 L598.6,448.0 L596.3,447.8 L594.1,447.5 L592.0,447.3 L589.9,447.0 L588.0,446.8 L586.1,446.5 L584.4,446.2 L582.7,445.9 L581.0,445.6 L579.4,445.3 L577.8,445.0 L576.3,444.6 L574.7,444.3 L573.1,443.9 L571.4,443.5 L569.8,443.0 L568.1,442.6 L566.5,442.1 L564.8,441.6 L563.1,441.0 L561.3,440.5 L559.6,440.0 L557.8,439.5 L556.0,439.1 L554.0,439.0 Z"/>
</g>

<!-- skin slab -->
<path d="M207.6,176.1 L215.4,171.8 L222.8,194.5 C226,250 220,300 214,340 C211,370 206,395 204.5,420 C203,440 204,460 207,491 L195.3,491.5 C190,460 189,440 192,420 C195,395 200,370 204,340 C210,300 216,250 211.5,188.4 Z" fill="#f2d3c1"/>
<path d="M215.4,171.8 L332,177 C338,210 344,260 345,320 C346,370 345.5,410 338.5,447 L207,491 C204,460 203,440 204.5,420 C206,395 211,370 214,340 C220,300 226,250 222.8,194.5 Z" fill="url(#skinG)"/>

<!-- fabric -->
<path id="fabOuter" d="M459,176 C460.5,184.0 462.0,192.0 463.5,200.0 C465.0,208.0 466.8,215.0 468.2,223.8 C469.6,232.6 471.6,243.2 471.8,253.0 C472.1,262.8 470.9,272.8 469.7,282.6 C468.5,292.4 466.2,304.1 464.4,312.0 C462.6,319.9 460.9,322.1 458.8,330.0 C456.7,337.9 454.0,349.6 452.0,359.4 C450.0,369.2 448.5,379.0 447.0,388.8 C445.5,398.6 443.8,408.4 443.2,418.2 C442.6,428.0 442.7,437.8 443.2,447.6 C443.7,457.4 445.1,469.8 446.2,477.0 C447.2,484.2 448.4,486.3 449.5,491.0 L458.5,490 Q503,475 545.5,447 C544.0,437.0 542.0,426.3 541.1,417.0 C540.2,407.7 539.9,399.7 540.0,391.0 C540.1,382.3 541.1,373.7 541.9,365.0 C542.6,356.3 543.3,348.2 544.5,339.0 C545.7,329.8 547.8,320.3 548.9,310.0 C550.0,299.7 550.5,286.8 551.0,277.0 C551.5,267.2 551.9,259.7 551.8,251.0 C551.7,242.3 551.0,233.7 550.2,225.0 C549.4,216.3 548.2,207.4 547.0,199.0 C545.8,190.6 544.5,182.5 543.2,174.3 C520,168 490,168 459,176 Z" fill="#93c4d1"/>
<path d="M467.5,175 C469.2,183.3 470.8,191.9 472.5,200.0 C474.2,208.1 476.1,215.0 477.6,223.8 C479.1,232.6 481.2,243.2 481.5,253.0 C481.8,262.8 480.5,272.8 479.1,282.6 C477.7,292.4 475.3,304.1 473.2,312.0 C471.1,319.9 468.9,322.1 466.5,330.0 C464.1,337.9 461.0,349.6 458.8,359.4 C456.6,369.2 454.8,379.0 453.5,388.8 C452.2,398.6 451.6,408.4 451.2,418.2 C450.8,428.0 450.6,437.8 451.2,447.6 C451.8,457.4 453.8,469.9 455.0,477.0 C456.2,484.1 457.3,485.7 458.5,490.0 Q503,475 545.5,447 C544.0,437.0 542.0,426.3 541.1,417.0 C540.2,407.7 539.9,399.7 540.0,391.0 C540.1,382.3 541.1,373.7 541.9,365.0 C542.6,356.3 543.3,348.2 544.5,339.0 C545.7,329.8 547.8,320.3 548.9,310.0 C550.0,299.7 550.5,286.8 551.0,277.0 C551.5,267.2 551.9,259.7 551.8,251.0 C551.7,242.3 551.0,233.7 550.2,225.0 C549.4,216.3 548.2,207.4 547.0,199.0 C545.8,190.6 544.5,182.5 543.2,174.3 C520,168 495,168 467.5,175 Z" fill="url(#hatch)"/>

<!-- red arrows -->
<g fill="#ef5a68">
<!-- left pointing -->
<path d="M442.8,261.5 L463.8,257.2 L463.3,259.4 L473,259.4 L473,266.4 L462.3,266.4 L462.3,267.8 Z"/>
<path d="M438.1,320.5 L457.6,315.4 L457.4,317.5 L465,317.5 L465,324.5 L456.8,324.5 L456.8,326 Z"/>
<path d="M422.1,388.7 L441.2,383.2 L441.2,385.2 L447,385.2 L447,392.9 L441.5,392.9 L441.5,394.3 Z"/>
<!-- R1 curved up -->
<path d="M522.8,241.1 C535,237.6 548,233.5 560.5,228.8 C570,224.6 575,221.5 580,217.7 C586,213 590,210 593,207.3 C597,204 601,200 604.7,196.3 L603.4,193 L627.5,188.1 L612.5,215.1 L611.2,211.9 C607,215 603,217 599.5,219 C592,224 586,227 580,230 C572,234.5 566,238 560.5,240.5 C552,244 546,245.5 541,246.3 C533,247.3 527,247.8 522.8,247.6 C519.5,247.3 519.5,241.6 522.8,241.1 Z"/>
<!-- B1 -->
<path d="M507.2,262.6 L558.8,264.5 C560.6,264.6 560.6,267.8 558.8,267.8 L507.2,268.2 C503.5,268.2 503.5,262.6 507.2,262.6 Z"/>
<!-- R2 -->
<path d="M524,283.6 C560,283.8 600,284.6 636.5,286.2 L636.5,282 L663.5,292.2 L634.4,299.1 L633.7,295.2 C600,292 560,289.6 524,289.6 C520.5,289.6 520.5,283.6 524,283.6 Z"/>
<!-- B2 -->
<path d="M503.4,321 L554.6,322.6 C556.4,322.7 556.4,325.9 554.6,326 L503.4,326.2 C500,326.2 500,321 503.4,321 Z"/>
<!-- R3 -->
<path d="M512.5,339.2 C545,339.2 580,339 611,339.3 L612,334.7 L637,341.2 L612,348.2 L612,344.9 C580,344.6 545,344.5 512.5,344.6 C509.3,344.6 509.3,339.2 512.5,339.2 Z"/>
<!-- B3 -->
<path d="M490.9,385.7 L541.7,384.1 C543.7,384.1 543.7,388.1 541.7,388.1 L490.9,390.7 C487.7,390.7 487.7,385.7 490.9,385.7 Z"/>
<!-- R4 curved down -->
<path d="M518,402.6 C523,401.3 527,400.9 531.2,400.9 C537,400.9 542,401.3 546.8,402 C552,402.7 557,404 562.4,405.6 C570,408 576,410 583.2,412.4 C590,415 597,417.5 604,420.2 L614.9,419.6 L631.6,440.4 L607.1,439.7 L608.2,435.8 C603,433 598,430.7 593.6,428.5 C586,425 580,422.8 572.8,420.2 C565,417.5 558,415.3 552,413.9 C546,412.6 541,411.8 536.4,411.3 C529,410.4 523,409.6 518,409 C514.5,408.8 514.5,402.8 518,402.6 Z"/>
</g>

<!-- circle -->
<circle cx="167.9" cy="275.5" r="93.8" fill="#898a8e" stroke="#fff" stroke-width="4"/>
<path d="M263,273 L394,273 L394,341" fill="none" stroke="#fff" stroke-width="4"/>
<path d="M382,330.4 L394,342.5 L405.4,330.4" fill="none" stroke="#fff" stroke-width="4" stroke-linecap="butt"/>

<text transform="matrix(0.86,-0.3,-0.03,1,215.6,480.6)" font-size="18" stroke="#fff" stroke-width="0.4">Skin</text>
<text transform="matrix(0.68,-0.35,-0.06,1,466.5,476)" font-size="19" stroke="#fff" stroke-width="0.4">Fabric</text>
</g>
<g stroke="#fff" stroke-width="2">
<line x1="821" y1="159" x2="1429" y2="159"/>
<line x1="821" y1="227.5" x2="1429" y2="227.5"/>
<line x1="821" y1="296.3" x2="1429" y2="296.3"/>
<line x1="821" y1="365" x2="1429" y2="365"/>
</g>
<rect x="821" y="431.7" width="608" height="4.6" fill="#fff"/>
<g stroke="#fff" stroke-width="1.6">
<line x1="848.5" y1="436" x2="848.5" y2="443.5"/>
<line x1="957.4" y1="436" x2="957.4" y2="443.5"/>
<line x1="1066.3" y1="436" x2="1066.3" y2="443.5"/>
<line x1="1175.2" y1="436" x2="1175.2" y2="443.5"/>
<line x1="1284.1" y1="436" x2="1284.1" y2="443.5"/>
<line x1="1393" y1="436" x2="1393" y2="443.5"/>
</g>

<text transform="translate(775.3,394) rotate(-90)" x="0" y="0" font-size="15" stroke="#fff" stroke-width="0.6" textLength="196" lengthAdjust="spacingAndGlyphs">WATER VAPOUR UPTAKE (%)</text>

<!-- legend -->
<g stroke-linecap="round" stroke-width="5.4">
<line x1="961.3" y1="195.8" x2="977.5" y2="195.8" stroke="#6b7fa0"/>
<line x1="1035.5" y1="195.8" x2="1051.5" y2="195.8" stroke="#d3d9e4"/>
<line x1="1121.6" y1="195.8" x2="1137.5" y2="195.8" stroke="#b96e96"/>
<line x1="1201.7" y1="195.8" x2="1217.9" y2="195.8" stroke="#eed8e0"/>
</g>

<!-- curves -->
<g fill="none" stroke-linecap="round" stroke-linejoin="round">
<path stroke="#eed8e0" stroke-width="4.2" d="M852.0,433.2 C858.0,432.6 863.3,431.9 870.0,431.3 C876.7,430.7 882.5,430.0 892.0,429.3 C901.5,428.6 915.2,427.5 926.7,426.9 C938.2,426.3 950.8,426.1 961.3,425.8 C971.8,425.5 970.0,425.3 990.0,425.2 C1010.0,425.1 1051.0,425.0 1081.0,425.0 C1111.0,425.0 1145.7,425.1 1170.0,425.1 C1194.3,425.1 1206.2,425.1 1226.7,424.8 C1247.2,424.5 1273.9,423.8 1293.3,423.3 C1312.7,422.8 1326.6,422.2 1343.3,421.7 C1360.0,421.1 1376.6,420.6 1393.3,420.0"/>
<path stroke="#b96e96" stroke-width="4.2" d="M851.0,433.0 C854.7,432.5 858.0,432.2 862.0,431.5 C866.0,430.8 869.7,430.1 874.7,429.0 C879.7,427.9 883.3,426.6 892.0,425.2 C900.7,423.8 915.2,421.9 926.7,420.8 C938.2,419.8 950.8,419.4 961.3,418.9 C971.8,418.4 973.1,418.5 990.0,417.9 C1006.9,417.3 1038.5,415.9 1062.8,415.2 C1087.1,414.5 1119.4,414.0 1135.6,413.7 C1151.8,413.4 1147.6,413.8 1160.0,413.2 C1172.4,412.6 1193.3,411.6 1210.0,410.0 C1226.7,408.4 1243.3,405.7 1260.0,403.5 C1276.7,401.3 1293.3,399.1 1310.0,396.7 C1326.7,394.3 1346.1,391.3 1360.0,389.2 C1373.9,387.1 1382.2,385.6 1393.3,383.8"/>
<path stroke="#d3d9e4" stroke-width="4.4" d="M850.5,432.5 C854.3,431.3 858.0,430.2 862.0,429.0 C866.0,427.8 869.7,426.6 874.7,425.0 C879.7,423.4 883.3,421.4 892.0,419.7 C900.7,417.9 915.2,416.1 926.7,414.5 C938.2,412.9 949.9,411.6 961.3,410.2 C972.7,408.8 984.1,407.6 995.0,406.3 C1005.9,405.0 1015.1,403.7 1026.4,402.4 C1037.7,401.1 1050.7,399.4 1062.8,398.3 C1074.9,397.2 1087.1,396.5 1099.2,395.9 C1111.3,395.3 1125.5,395.0 1135.6,394.6 C1145.7,394.2 1147.6,394.5 1160.0,393.3 C1172.4,392.1 1196.2,389.8 1210.0,387.5 C1223.8,385.2 1232.0,382.8 1243.0,379.5 C1254.0,376.2 1265.3,372.4 1276.0,368.0 C1286.7,363.6 1296.7,358.1 1307.0,352.8 C1317.3,347.5 1328.2,341.4 1338.0,336.0 C1347.8,330.6 1356.8,325.0 1366.0,320.5 C1375.2,316.0 1384.2,312.8 1393.3,309.0"/>
<path stroke="#6b7fa0" stroke-width="5" d="M850.4,432.2 C852.9,430.5 855.4,428.6 858.0,427.0 C860.6,425.4 861.8,424.7 866.0,422.8 C870.2,420.9 876.1,417.9 883.3,415.4 C890.5,412.9 899.2,410.6 909.3,408.0 C919.4,405.4 932.4,402.3 944.0,399.8 C955.6,397.3 965.0,395.4 978.7,392.9 C992.4,390.4 1012.4,387.1 1026.4,384.6 C1040.4,382.1 1050.7,380.3 1062.8,377.7 C1074.9,375.1 1087.1,372.1 1099.2,369.1 C1111.3,366.1 1123.8,362.5 1135.6,359.5 C1147.4,356.5 1156.0,354.6 1170.0,350.9 C1184.0,347.2 1205.3,341.4 1219.3,337.5 C1233.3,333.6 1244.5,330.8 1254.0,327.3 C1263.5,323.8 1269.0,320.9 1276.0,316.5 C1283.0,312.1 1289.3,307.0 1296.0,301.0 C1302.7,295.0 1309.3,287.8 1316.0,280.5 C1322.7,273.2 1329.3,264.5 1336.0,257.0 C1342.7,249.5 1349.7,242.2 1356.0,235.3 C1362.3,228.4 1367.9,222.6 1374.0,215.7 C1380.1,208.8 1386.4,201.2 1392.6,194.0"/>
</g>
<text transform="scale(0.8413,1)" x="104.85 151.66 188.09 226.52" y="53.4" font-size="48.2" font-weight="bold">WOOL</text>
<text transform="scale(0.8413,1)" x="271.01 286.9" y="53.4" font-size="48.2" font-weight="bold">IS</text>
<text transform="scale(0.8413,1)" x="334.31 369.95 405.38 443.65 477.8 511.52 526.63 562.98 578.88 617.5" y="53.4" font-size="48.2" font-weight="bold">BENEFICIAL</text>
<text transform="scale(0.8413,1)" x="663.22 694.06 729.86" y="53.4" font-size="48.2" font-weight="bold">FOR</text>
<text transform="scale(0.8413,1)" x="779.59 811.89 847.38 879.43 913.72 957.26" y="53.4" font-size="48.2" font-weight="bold">ECZEMA</text>
<text transform="scale(0.8413,1)" x="1006.76 1041.28 1078.03 1111.31 1143.3 1177.24 1213.18 1246.83 1284.46" y="53.4" font-size="48.2" font-weight="bold">SUFFERERS</text>
<text transform="scale(0.8957,1)" x="853.36 875.96 896.69 904.85 922.54 939.86 959.49 978.58" y="128" font-size="25.8" stroke="#fff" stroke-width="0.6">MOISTURE</text>
<text transform="scale(0.8957,1)" x="1002.64 1019.17 1038.44 1055.48 1075.84 1096.53" y="128" font-size="25.8" stroke="#fff" stroke-width="0.6">VAPOUR</text>
<text transform="scale(0.8957,1)" x="1123.4 1142.93 1161.46 1177.3 1196.43 1214.59" y="128" font-size="25.8" stroke="#fff" stroke-width="0.6">UPTAKE</text>
</g>
<text class="t" x="788.80" y="166.1" font-size="14.8" textLength="15.80" lengthAdjust="spacingAndGlyphs" stroke="#fff" stroke-width="0.6">40</text>
<text class="t" x="788.60" y="233.7" font-size="14.8" textLength="16.00" lengthAdjust="spacingAndGlyphs" stroke="#fff" stroke-width="0.6">30</text>
<text class="t" x="787.60" y="302.4" font-size="14.8" textLength="17.00" lengthAdjust="spacingAndGlyphs" stroke="#fff" stroke-width="0.6">20</text>
<text class="t" x="789.00" y="369" font-size="14.8" textLength="15.80" lengthAdjust="spacingAndGlyphs" stroke="#fff" stroke-width="0.6">10</text>
<text class="t" x="797.00" y="435.5" font-size="14.8" textLength="7.80" lengthAdjust="spacingAndGlyphs" stroke="#fff" stroke-width="0.6">0</text>
<text class="t" x="844.60" y="462.7" font-size="15.2" textLength="7.80" lengthAdjust="spacingAndGlyphs" stroke="#fff" stroke-width="0.6">0</text>
<text class="t" x="949.40" y="462.7" font-size="15.2" textLength="15.40" lengthAdjust="spacingAndGlyphs" stroke="#fff" stroke-width="0.6">20</text>
<text class="t" x="1059.00" y="462.7" font-size="15.2" textLength="14.40" lengthAdjust="spacingAndGlyphs" stroke="#fff" stroke-width="0.6">40</text>
<text class="t" x="1167.60" y="462.7" font-size="15.2" textLength="15.40" lengthAdjust="spacingAndGlyphs" stroke="#fff" stroke-width="0.6">60</text>
<text class="t" x="1276.20" y="462.7" font-size="15.2" textLength="15.40" lengthAdjust="spacingAndGlyphs" stroke="#fff" stroke-width="0.6">80</text>
<text class="t" x="1381.20" y="462.7" font-size="15.2" textLength="23.60" lengthAdjust="spacingAndGlyphs" stroke="#fff" stroke-width="0.6">100</text>
<text class="t" x="1039.00" y="486.1" font-size="14.6" textLength="170.60" lengthAdjust="spacingAndGlyphs" stroke="#fff" stroke-width="0.6">RELATIVE HUMIDITY (%)</text>
<text class="t" x="984.20" y="197.8" font-size="15.5" textLength="34.00" lengthAdjust="spacingAndGlyphs" stroke="#fff" stroke-width="0.5">Wool</text>
<text class="t" x="1058.40" y="197.8" font-size="15.5" textLength="45.20" lengthAdjust="spacingAndGlyphs" stroke="#fff" stroke-width="0.5">Cotton</text>
<text class="t" x="1143.60" y="197.8" font-size="15.5" textLength="40.20" lengthAdjust="spacingAndGlyphs" stroke="#fff" stroke-width="0.5">Nylon</text>
<text class="t" x="1224.20" y="197.8" font-size="15.5" textLength="65.40" lengthAdjust="spacingAndGlyphs" stroke="#fff" stroke-width="0.5">Polyester</text>
<text class="t" x="85.80" y="532.2" font-size="19.8" textLength="629.80" lengthAdjust="spacingAndGlyphs" stroke="#fff" stroke-width="0.45">Figure 1: Wool works to buffer the dynamic micro-climate between</text>
<text class="t" x="86.80" y="556.2" font-size="19.8" textLength="215.40" lengthAdjust="spacingAndGlyphs" stroke="#fff" stroke-width="0.45">the fabric and the skin.</text>
<text class="t" x="762.40" y="532.1" font-size="19.8" textLength="625.80" lengthAdjust="spacingAndGlyphs" stroke="#fff" stroke-width="0.45">Figure 2: Moisture vapour uptake of wool and other fibres showing</text>
<text class="t" x="763.20" y="556.5" font-size="19.8" textLength="544.00" lengthAdjust="spacingAndGlyphs" stroke="#fff" stroke-width="0.45">how wool is one of the best of the common apparel fibres.</text>
<text class="t" x="121.60" y="244.4" font-size="19.4" textLength="90.80" lengthAdjust="spacingAndGlyphs" font-weight="bold">Wool acts</text>
<text class="t" x="116.80" y="269.2" font-size="19.4" textLength="99.40" lengthAdjust="spacingAndGlyphs" font-weight="bold">as a buffer</text>
<text class="t" x="104.20" y="294" font-size="19.4" textLength="125.60" lengthAdjust="spacingAndGlyphs" stroke="#fff" stroke-width="0.45">(humidity and</text>
<text class="t" x="105.80" y="318.3" font-size="19.4" textLength="122.40" lengthAdjust="spacingAndGlyphs" stroke="#fff" stroke-width="0.45">temperature)</text>
<text class="t" x="352.60" y="370.6" font-size="19.4" textLength="80.40" lengthAdjust="spacingAndGlyphs" stroke="#fff" stroke-width="0.45">Moisture</text>
<text class="t" x="361.00" y="392.7" font-size="19.4" textLength="64.40" lengthAdjust="spacingAndGlyphs" stroke="#fff" stroke-width="0.45">vapour</text>
<text class="t" x="591.80" y="383.2" font-size="19.8" textLength="111.20" lengthAdjust="spacingAndGlyphs" stroke="#fff" stroke-width="0.45">Atmosphere</text>
</svg>
</body></html>
